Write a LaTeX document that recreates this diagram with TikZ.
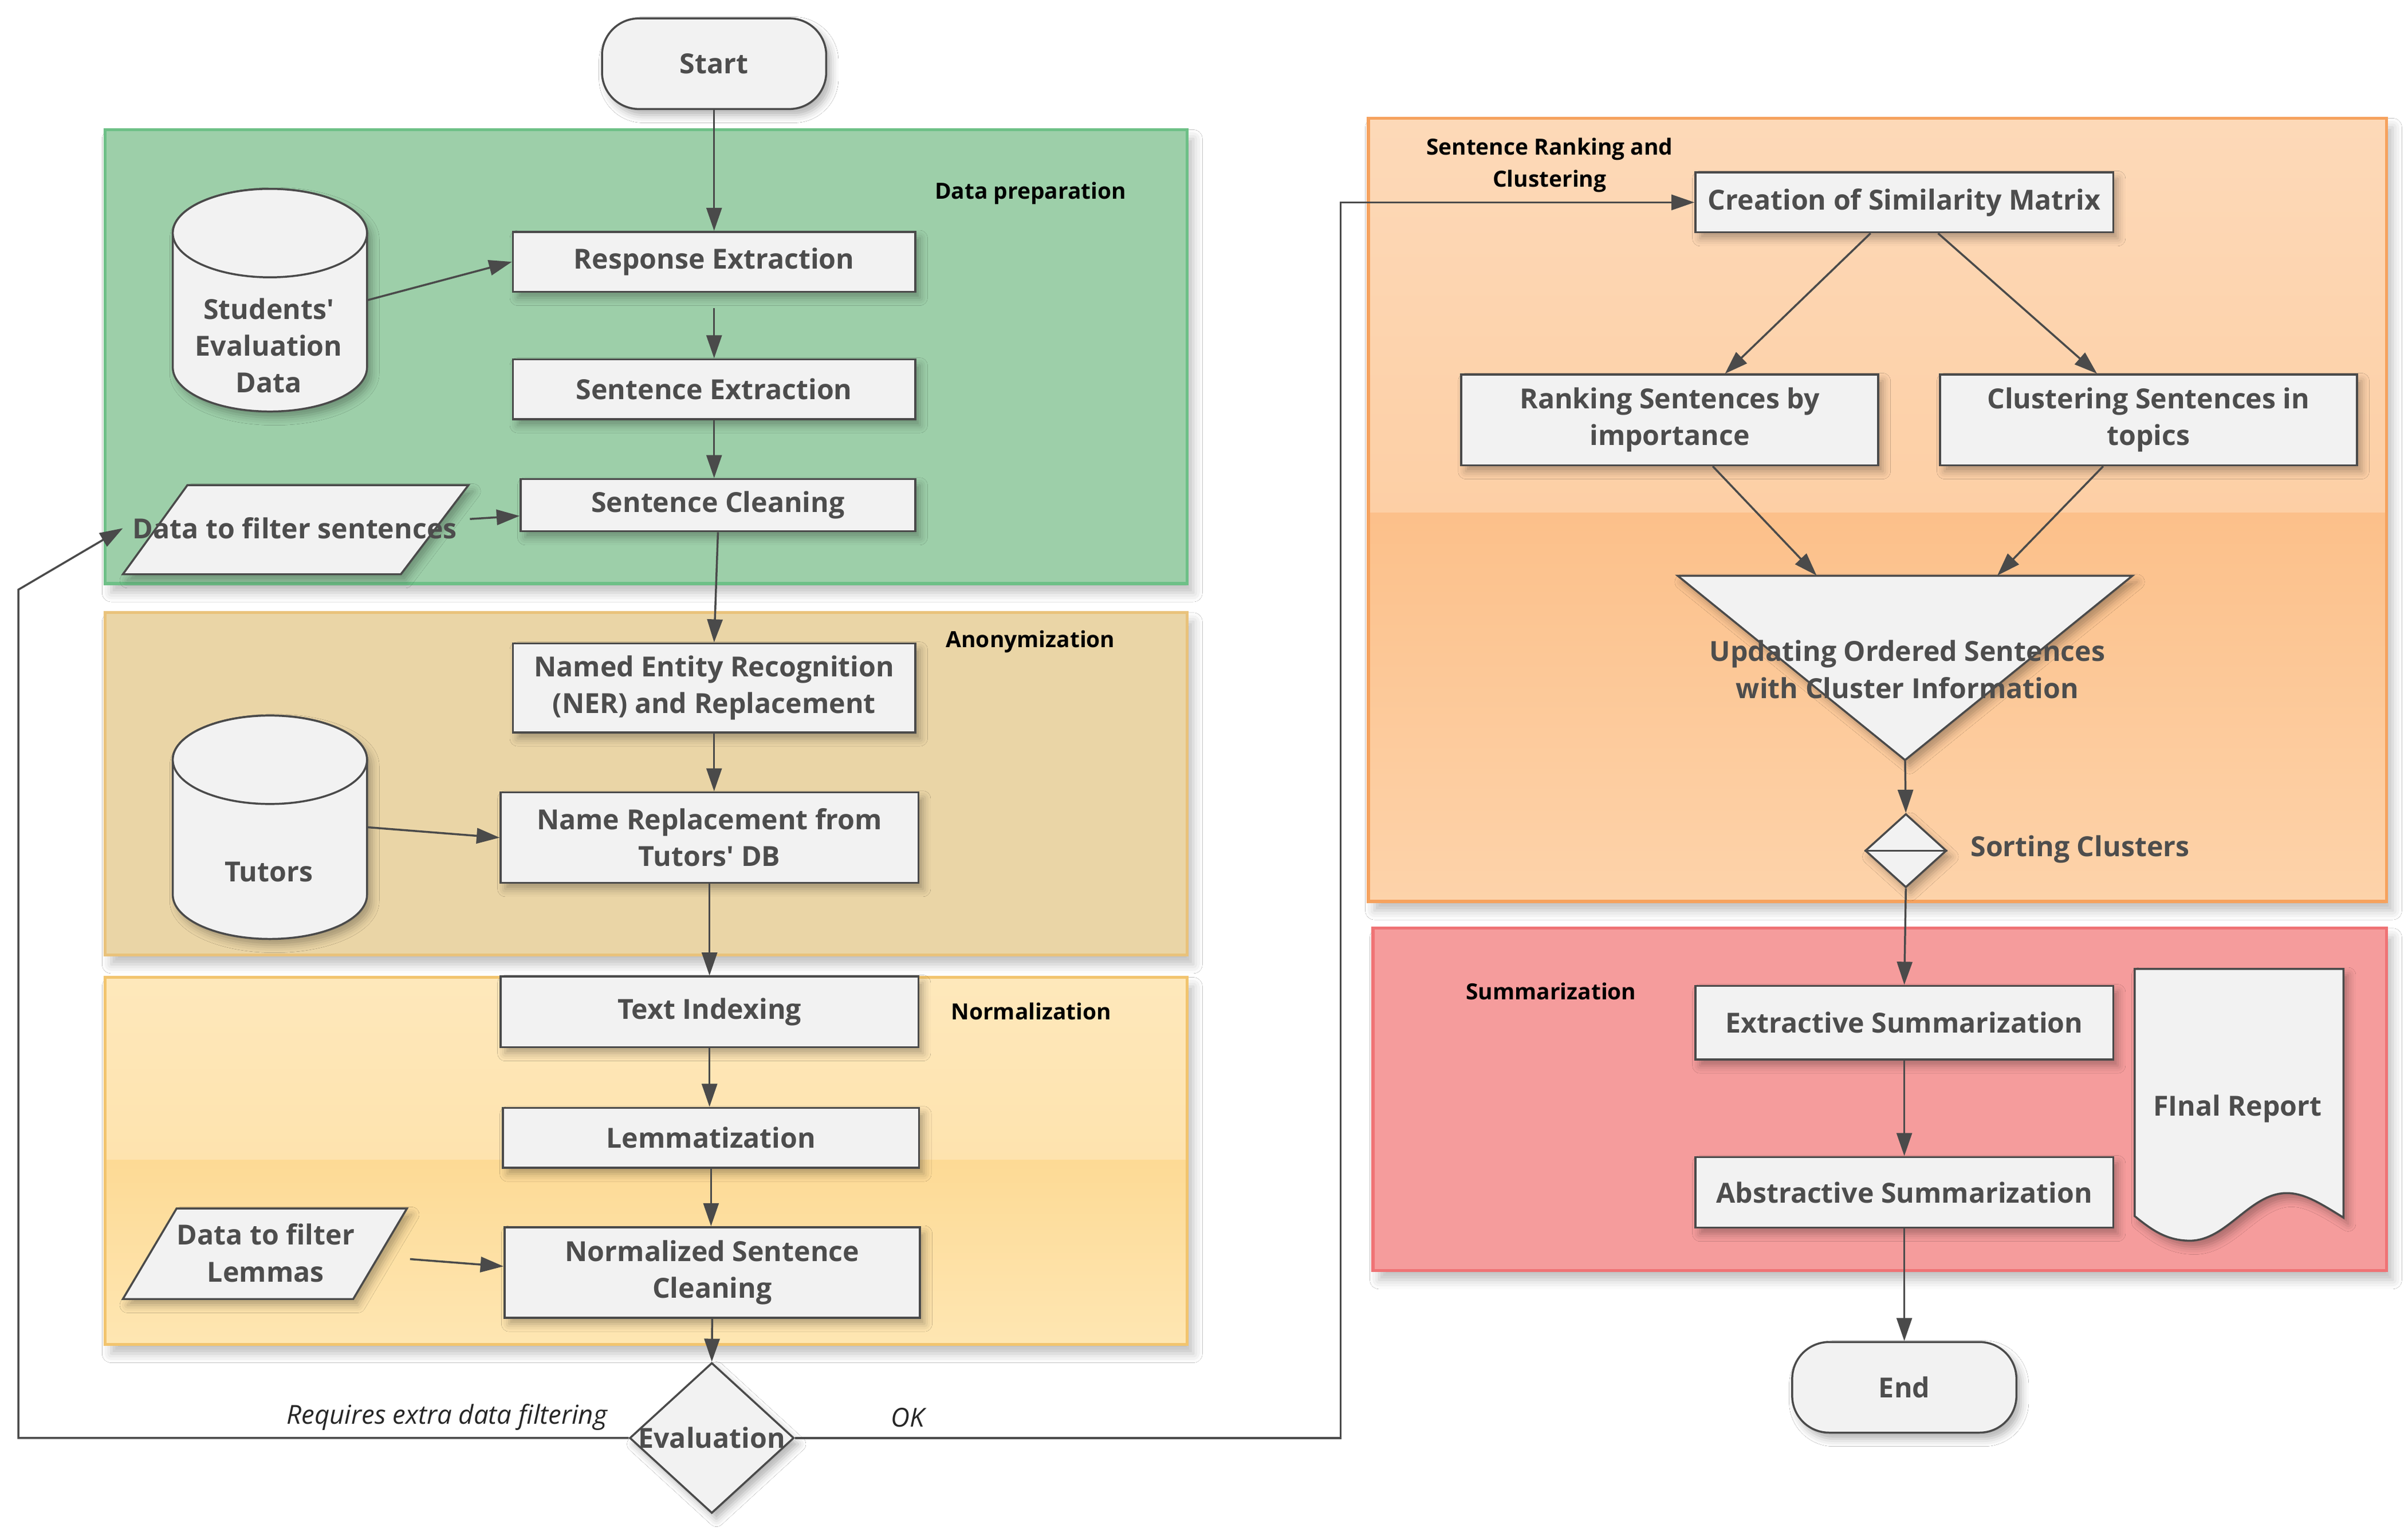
\documentclass[tikz,border=0pt]{standalone}
\usepackage{fontspec}
\setmainfont{Open Sans}
\usetikzlibrary{shapes.geometric,arrows.meta,shadows.blur,calc}
\definecolor{boxfill}{HTML}{F2F2F2}
\definecolor{boxline}{HTML}{4A4A4A}
\definecolor{txt}{HTML}{4D4D4D}
\definecolor{greenfill}{HTML}{9DCFA9}
\definecolor{greenline}{HTML}{6EC087}
\definecolor{tanfill}{HTML}{EAD5A6}
\definecolor{tanline}{HTML}{E9C27B}
\definecolor{normtop}{HTML}{FEE8BB}
\definecolor{normmid}{HTML}{FEE3AE}
\definecolor{normband}{HTML}{FDDA95}
\definecolor{normbot}{HTML}{FEE6B2}
\definecolor{normline}{HTML}{F2C46E}
\definecolor{orgtop}{HTML}{FDD9B8}
\definecolor{orgmid}{HTML}{FDCFA5}
\definecolor{orgband}{HTML}{FCC08A}
\definecolor{orgbot}{HTML}{FDD3AA}
\definecolor{orgline}{HTML}{F6A25E}
\definecolor{redfill}{HTML}{F59C9C}
\definecolor{redline}{HTML}{EF7375}
\definecolor{arrowc}{HTML}{4A4A4A}
\newcommand{\bxfont}{\fontsize{18}{24}\selectfont\bfseries}
\newcommand{\grpfont}{\fontsize{14.5}{21}\selectfont\bfseries}
\newcommand{\lblfont}{\fontsize{17}{20}\selectfont\itshape}
\tikzset{
 shp/.style={draw=boxline, fill=boxfill, line width=1.3pt},
 shd/.style={blur shadow={shadow xshift=3pt, shadow yshift=-4pt, shadow blur radius=5pt, shadow opacity=30}},
 proc/.style={shp, shd, rectangle, inner sep=2pt, align=center, font=\bxfont, text=txt},
 term/.style={proc, rounded corners=24pt},
 bxtext/.style={font=\bxfont, text=txt, align=center, inner sep=0pt},
 grplabel/.style={font=\grpfont, text=black, align=center, inner sep=0pt},
 edgelabel/.style={font=\lblfont, text=black!85, inner sep=0pt},
 holder/.style={inner sep=0pt, draw=none, fill=none, rectangle},
 conn/.style={draw=arrowc, line width=1.3pt, -{Triangle[length=15pt,width=10pt]}},
 grpshd/.style={blur shadow={shadow xshift=4pt, shadow yshift=-6pt, shadow blur radius=6pt, shadow opacity=25}},
}
\begin{document}
\begin{tikzpicture}[x=1pt,y=-1pt]
\useasboundingbox (0,0) rectangle (1568,1002.6);
\fill[white] (0,0) rectangle (1568,1002.6);

% ---------- group boxes ----------
\fill[greenfill, grpshd] (68.5,84.5) rectangle (773,380);
\draw[greenline, line width=2pt] (68.5,84.5) rectangle (773,380);
\fill[tanfill, grpshd] (68.5,399) rectangle (773,622);
\draw[tanline, line width=2pt] (68.5,399) rectangle (773,622);
\fill[normbot, grpshd] (68.5,636.5) rectangle (773,875.5);
\shade[top color=normtop, bottom color=normmid] (68.5,636.5) rectangle (773,755.5);
\shade[top color=normband, bottom color=normbot] (68.5,755.5) rectangle (773,875.5);
\draw[normline, line width=2pt] (68.5,636.5) rectangle (773,875.5);
\fill[orgbot, grpshd] (891,77) rectangle (1554,587);
\shade[top color=orgtop, bottom color=orgmid] (891,77) rectangle (1554,334);
\shade[top color=orgband, bottom color=orgbot] (891,334) rectangle (1554,587);
\draw[orgline, line width=2pt] (891,77) rectangle (1554,587);
\fill[redfill, grpshd] (894,604.5) rectangle (1554,827.5);
\draw[redline, line width=2pt] (894,604.5) rectangle (1554,827.5);

\node[grplabel] (lbldp) at (671,126) {Data preparation};
\node[grplabel] (lblan) at (671,418) {Anonymization};
\node[grplabel] (lblno) at (671.5,658.5) {Normalization};
\node[grplabel] (lblsr) at (1009,107.5) {Sentence Ranking and\\Clustering};
\node[grplabel] (lblsu) at (1010,645.5) {Summarization};

% ---------- left column ----------
\node[term, minimum width=146pt, minimum height=59pt] (start) at (465,41.5) {Start};
\node[proc, minimum width=262pt, minimum height=39pt] (re) at (465,170.5) {Response Extraction};
\node[proc, minimum width=262pt, minimum height=39pt] (se) at (465,253.5) {Sentence Extraction};
\node[proc, minimum width=257pt, minimum height=34pt] (sc) at (467.5,329) {Sentence Cleaning};
\node[proc, minimum width=262pt, minimum height=58pt] (ner) at (465,448) {Named Entity Recognition\\(NER) and Replacement};
\node[proc, minimum width=272pt, minimum height=59pt] (nr) at (462,545.5) {Name Replacement from\\Tutors\textquotesingle{} DB};
\node[proc, minimum width=272pt, minimum height=46pt] (ti) at (462,659) {Text Indexing};
\node[proc, minimum width=271pt, minimum height=39pt] (lem) at (463,741) {Lemmatization};
\node[proc, minimum width=270.5pt, minimum height=59pt] (nsc) at (463.75,828.7) {Normalized Sentence\\Cleaning};
\node[diamond, shp, shd, inner sep=0pt, minimum width=107pt, minimum height=98pt] (eval) at (463.5,936.5) {};
\node[bxtext] (evaltxt) at (eval.center) {Evaluation};

% cylinder: Students' Evaluation Data
\draw[shp, shd] (112.5,151.8) -- (112.5,239.2)
  arc[start angle=180, end angle=360, x radius=63.25pt, y radius=28.8pt] -- (239,151.8)
  arc[start angle=0, end angle=180, x radius=63.25pt, y radius=28.8pt] -- cycle;
\draw[shp] (175.75,151.8) ellipse [x radius=63.25pt, y radius=28.8pt];
\node[holder, minimum width=126.5pt, minimum height=145pt] (sed) at (175.75,195.5) {};
\node[bxtext] (sedtxt) at (175,225) {Students\textquotesingle\\Evaluation\\Data};

% cylinder: Tutors
\draw[shp, shd] (112.5,494.8) -- (112.5,582.7)
  arc[start angle=180, end angle=360, x radius=63.25pt, y radius=28.8pt] -- (239,494.8)
  arc[start angle=0, end angle=180, x radius=63.25pt, y radius=28.8pt] -- cycle;
\draw[shp] (175.75,494.8) ellipse [x radius=63.25pt, y radius=28.8pt];
\node[holder, minimum width=126.5pt, minimum height=145.5pt] (tut) at (175.75,538.75) {};
\node[bxtext] (tuttxt) at (175,568) {Tutors};

% parallelogram: Data to filter sentences
\draw[shp, shd] (122,316) -- (305,316) -- (261,374) -- (80,374) -- cycle;
\node[holder, minimum width=225pt, minimum height=58pt] (dfs) at (192.5,345) {};
\node[bxtext] (dfstxt) at (192,344) {Data to filter sentences};
\coordinate (dfsout) at (306,338);
\coordinate (dfsin) at (80,344);

% parallelogram: Data to filter Lemmas
\draw[shp, shd] (115,787) -- (265,787) -- (230,846) -- (80,846) -- cycle;
\node[holder, minimum width=185pt, minimum height=59pt] (dfl) at (172.5,816.5) {};
\node[bxtext] (dfltxt) at (173,816) {Data to filter\\Lemmas};
\coordinate (dflout) at (267,820);

% ---------- right column ----------
\node[proc, minimum width=272pt, minimum height=39pt] (csm) at (1240,131.8) {Creation of Similarity Matrix};
\node[proc, minimum width=271.5pt, minimum height=59pt] (rank) at (1087.25,273.5) {Ranking Sentences by\\importance};
\node[proc, minimum width=271.5pt, minimum height=59pt] (clus) at (1399,273.5) {Clustering Sentences in\\topics};

% merge triangle
\draw[shp, shd] (1092.5,375) -- (1388.5,375) -- (1240.5,495) -- cycle;
\node[holder, minimum width=296pt, minimum height=120pt] (upd) at (1240.5,435) {};
\node[bxtext] (updtxt) at (1242,436) {Updating Ordered Sentences\\with Cluster Information};

\node[diamond, shp, shd, inner sep=0pt, minimum width=53pt, minimum height=48pt] (sort) at (1241,554) {};
\draw[boxline, line width=1.3pt] (sort.west) -- (sort.east);
\node[bxtext, anchor=west] (sorttxt) at (1283,553) {Sorting Clusters};

\node[proc, minimum width=272pt, minimum height=48pt] (ext) at (1240,666) {Extractive Summarization};
\node[proc, minimum width=272pt, minimum height=46pt] (abs) at (1240,776.5) {Abstractive Summarization};
\node[term, minimum width=146pt, minimum height=59pt] (end) at (1240,903.5) {End};

% document: Final Report
\draw[shp, shd] (1390,631) -- (1526,631) -- (1526,793)
  .. controls (1510,783) and (1500,777) .. (1489,777)
  .. controls (1465,777) and (1450,808) .. (1426,808)
  .. controls (1410,808) and (1400,800) .. (1390,792) -- cycle;
\node[holder, minimum width=136pt, minimum height=177pt] (report) at (1458,719.5) {};
\node[bxtext] (reporttxt) at (1457,722) {FInal Report};

% ---------- connectors ----------
\draw[conn] (start.south) -- (re.north);
\draw[conn, shorten <=10pt] (re.south) -- (se.north);
\draw[conn] (se.south) -- (se.south |- sc.north);
\draw[conn] (sed.east) -- (re.west);
\draw[conn] (dfsout) -- ([yshift=-7pt]sc.west);
\draw[conn] (sc.south) -- (ner.north);
\draw[conn] (ner.south) -- (ner.south |- nr.north);
\draw[conn] (tut.east) -- (nr.west);
\draw[conn] (nr.south) -- (ti.north);
\draw[conn] (ti.south) -- (ti.south |- lem.north);
\draw[conn] (lem.south) -- (lem.south |- nsc.north);
\draw[conn] (dflout) -- ([yshift=4pt]nsc.west);
\draw[conn] (nsc.south) -- (eval.north);

\coordinate (fbcorner) at (12,384);
\draw[conn] (eval.west) -| (fbcorner) -- (dfsin);
\coordinate (okcorner) at (873,131.8);
\draw[conn] (eval.east) -| (okcorner) -- (csm.west);
\node[edgelabel] (lblreq) at (291,923) {Requires extra data filtering};
\node[edgelabel] (lblok) at (591,923) {OK};

\draw[conn] ([xshift=-22pt]csm.south) -- ([xshift=36pt]rank.north);
\draw[conn] ([xshift=22pt]csm.south) -- ([xshift=-33.5pt]clus.north);
\draw[conn] ([xshift=28pt]rank.south) -- ($(upd.north west)!0.3057!(upd.north east)$);
\draw[conn] ([xshift=-29.5pt]clus.south) -- ($(upd.north west)!0.7027!(upd.north east)$);
\draw[conn] (upd.south) -- (sort.north);
\draw[conn] (sort.south) -- (ext.north);
\draw[conn] (ext.south) -- (abs.north);
\draw[conn] (abs.south) -- (end.north);
\end{tikzpicture}
\end{document}
